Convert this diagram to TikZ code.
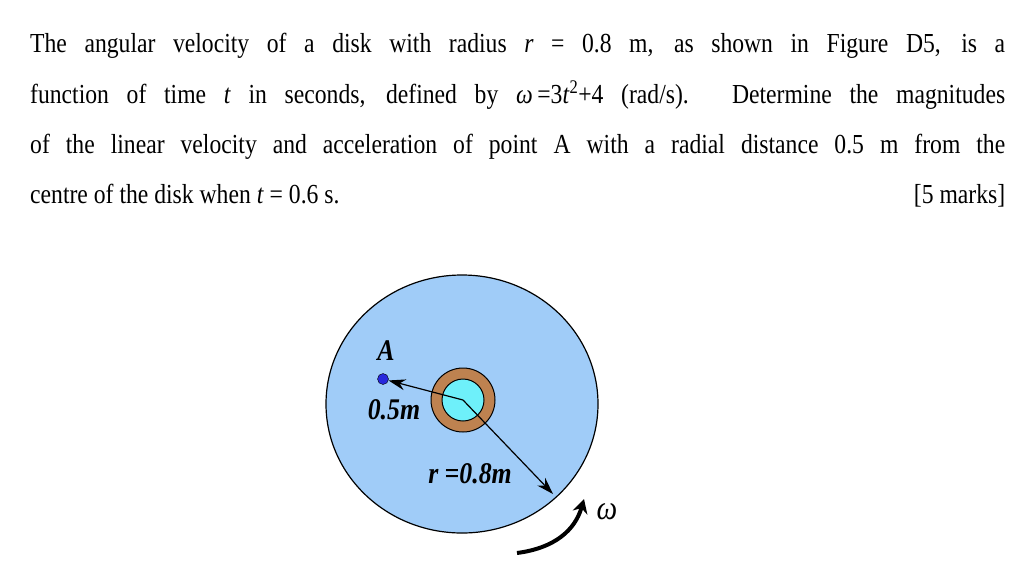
\documentclass[tikz,border=0pt]{standalone}
\usepackage{fontspec}
\setmainfont{Liberation Serif}[FakeStretch=0.86]
\usetikzlibrary{arrows.meta}
\begin{document}
\begin{tikzpicture}[x=1pt,y=-1pt,
  tline/.style={anchor=base west, inner sep=0pt, text width=975pt, align=justify,
     font=\fontsize{27.5}{30}\selectfont, execute at begin node={\parfillskip=0pt}},
  lbl/.style={font=\fontsize{30}{30}\selectfont\bfseries\itshape, inner sep=0pt},
  arr/.style={-{Stealth[length=17pt,width=11pt]}, line width=1.2pt}]
\useasboundingbox (0,0) rectangle (1024,587);
\node[tline] (t1) at (30,52) {The angular velocity of a disk with radius \textit{r} = 0.8 m, as shown in Figure D5, is a};
\node[tline] (t2) at (30,103) {function of time \textit{t} in seconds, defined by \textit{ω}\,=3\textit{t}\textsuperscript{2}+4 (rad/s). Determine the magnitudes};
\node[tline] (t3) at (30,153) {of the linear velocity and acceleration of point A with a radial distance 0.5 m from the};
\node[tline] (t4) at (30,203) {centre of the disk when \textit{t} = 0.6 s.\hfill[5 marks]};
\draw[fill={rgb,255:red,160;green,204;blue,248}, line width=1.2pt] (462,404) ellipse [x radius=136, y radius=129];
\node[circle, draw=black, line width=1pt, fill={rgb,255:red,190;green,130;blue,80}, minimum size=64pt, inner sep=0pt] (hub) at (463,400) {};
\node[circle, draw=black, line width=1pt, fill={rgb,255:red,110;green,240;blue,250}, minimum size=42pt, inner sep=0pt] (core) at (463,400) {};
\coordinate (c) at (463,400);
\node[circle, draw=black, fill={rgb,255:red,40;green,40;blue,220}, minimum size=11pt, inner sep=0pt] (A) at (383,379) {};
\coordinate (rim) at (553,494);
\draw[arr] (c) -- (A);
\draw[arr] (c) -- (rim);
\node[lbl] (la) at (386,351) {A};
\node[lbl] (l05) at (394,410) {0.5m};
\node[lbl] (l08) at (470,474) {r =0.8m};
\node[font=\fontsize{34}{34}\selectfont\itshape, inner sep=0pt] (w) at (607,512) {ω};
\coordinate (w1) at (517,553);
\coordinate (w2) at (584,499);
\draw[line width=4pt, -{Stealth[length=14pt,width=15pt]}] (w1) .. controls (555,548) and (575,530) .. (w2);
\end{tikzpicture}
\end{document}
